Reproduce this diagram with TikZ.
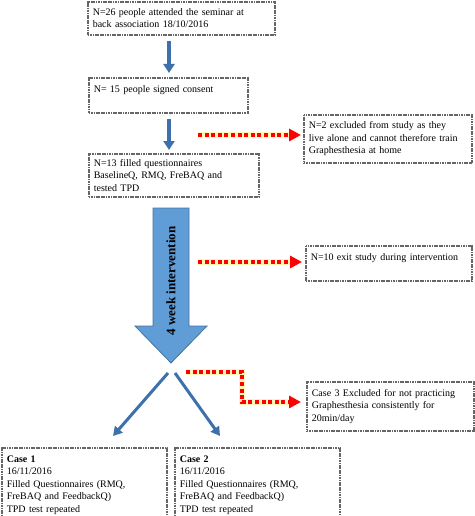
\documentclass[tikz,border=0pt]{standalone}
\usepackage{fontspec}
\setmainfont{Liberation Serif}
\usetikzlibrary{arrows.meta}

\definecolor{flowblue}{RGB}{62,112,172}
\definecolor{bigblue}{RGB}{96,156,214}
\definecolor{bigedge}{RGB}{70,116,160}
\definecolor{glowyel}{RGB}{255,240,140}

\begin{document}
\begin{tikzpicture}[
  x=1pt, y=-1pt,
  box/.style={draw=black!60, line width=1.6pt, dash pattern=on 1.2pt off 0.5pt,
              fill=white, anchor=north west, align=left, inner xsep=5pt,
              inner ysep=2pt, font=\fontsize{10}{12.5}\selectfont},
  down/.style={draw=flowblue, line width=4pt,
               -{Triangle[length=9pt,width=11pt]}},
  split/.style={draw=flowblue, line width=3pt,
                -{Triangle[length=9pt,width=10pt]}},
  glow/.style={draw=glowyel, line width=6.5pt, opacity=0.6},
  drop/.style={draw=red, line width=3.5pt, dash pattern=on 4pt off 2.6pt,
               -{Triangle[length=12pt,width=12pt]}}
]
\useasboundingbox (0,0) rectangle (474,516);

\node[box, text width=177pt, minimum height=33pt] (attend) at (87,1)
  {N=26 people attended the seminar at\\back association 18/10/2016};
\node[box, text width=149pt, minimum height=35pt] (consent) at (88,77)
  {N= 15 people signed consent\\\mbox{}};
\node[box, text width=160pt, minimum height=43pt] (filled) at (88,153)
  {N=13 filled questionnaires\\BaselineQ, RMQ, FreBAQ and\\tested TPD};

\node[box, text width=158pt, minimum height=48pt] (alone) at (303,114)
  {N=2 excluded from study as they\\live alone and cannot therefore train\\Graphesthesia at home};
\node[box, text width=156pt, minimum height=35pt] (exit) at (305,245)
  {N=10 exit study during intervention\\\mbox{}};
\node[box, text width=157pt, minimum height=49pt] (case3) at (306,381)
  {Case 3 Excluded for not practicing\\Graphesthesia consistently for\\20min/day};

\node[box, text width=155pt, minimum height=74pt] (case1) at (1,447)
  {\textbf{Case 1}\\16/11/2016\\Filled Questionnaires (RMQ,\\FreBAQ and FeedbackQ)\\TPD test repeated};
\node[box, text width=155pt, minimum height=74pt] (case2) at (174,447)
  {\textbf{Case 2}\\16/11/2016\\Filled Questionnaires (RMQ,\\FreBAQ and FeedbackQ)\\TPD test repeated};

% main flow
\draw[down] ([xshift=82pt,yshift=-5pt]attend.south west) -- ([xshift=81pt,yshift=4pt]consent.north west);
\draw[down] ([xshift=81pt,yshift=-5pt]consent.south west) -- ([xshift=81pt,yshift=3pt]filled.north west);

% intervention arrow
\draw[fill=bigblue, draw=bigedge, line width=0.8pt]
  (153,208) -- (189,208) -- (189,326) -- (207,326) -- (171,363)
  -- (135,326) -- (153,326) -- cycle;
\node[rotate=90, font=\fontsize{13}{14}\selectfont\bfseries] (interv) at (171,281)
  {4 week intervention};

% split into cases
\coordinate (splitl) at (168,373);
\coordinate (splitr) at (175,373);
\coordinate (tipl) at (113,436);
\coordinate (tipr) at (220,436);
\draw[split] (splitl) -- (tipl);
\draw[split] (splitr) -- (tipr);

% drop-outs
\coordinate (from1) at (198,135);
\coordinate (from2) at (198,262);
\coordinate (from3) at (186,372);
\coordinate (bend3) at (242,372);
\path[glow] (from1) -- ([xshift=-12pt]alone.west |- from1);
\draw[drop] (from1) -- ([xshift=-2pt]alone.west |- from1);
\path[glow] (from2) -- ([xshift=-12pt]exit.west |- from2);
\draw[drop] (from2) -- ([xshift=-3pt]exit.west |- from2);
\path[glow] (from3) -- (bend3) -- (242,402) -- (294,402);
\draw[drop] (from3) -- (bend3) -- (242,402) -- ([xshift=-5pt]case3.west |- 0,402);
\end{tikzpicture}
\end{document}
